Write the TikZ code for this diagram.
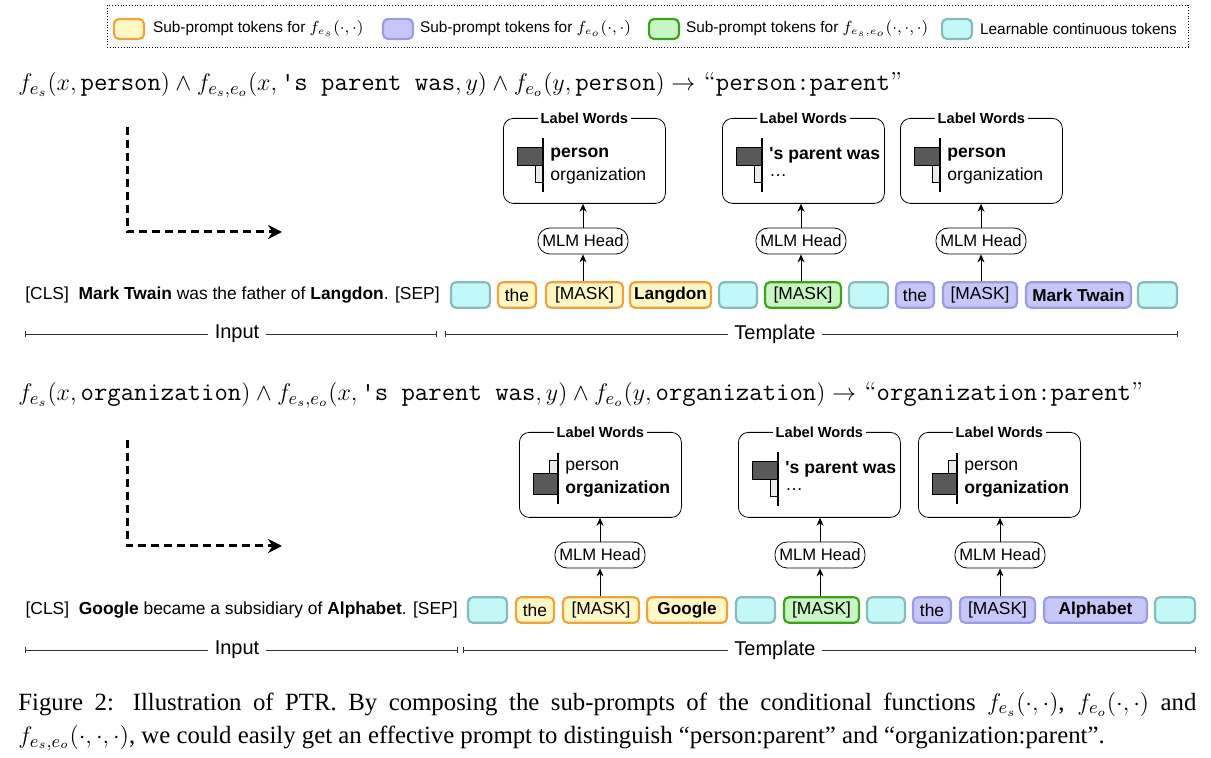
\documentclass[tikz,border=0pt]{standalone}
\usepackage{amsmath}
\usepackage{amssymb}
\usepackage{fontspec}
\usepackage{tikz}
\usetikzlibrary{arrows.meta}
\newfontfamily\sansf{Liberation Sans}
\newfontfamily\serf{Liberation Serif}
\definecolor{oBd}{HTML}{EFA240}\definecolor{oFl}{HTML}{FFF8C4}
\definecolor{pBd}{HTML}{9C9CE4}\definecolor{pFl}{HTML}{C6C6F8}
\definecolor{gBd}{HTML}{3FA01F}\definecolor{gFl}{HTML}{C8F6C2}
\definecolor{cBd}{HTML}{8ABBBB}\definecolor{cFl}{HTML}{C2F8F8}

\begin{document}
\begin{tikzpicture}
[x=0.5pt,y=-0.5pt,font=\sansf\fontsize{8.7}{10}\selectfont,
tok/.style={rectangle,rounded corners=2.5pt,line width=1.1pt,minimum height=12.8pt,inner sep=0pt},
tokO/.style={tok,draw=oBd,fill=oFl},
tokP/.style={tok,draw=pBd,fill=pFl},
tokG/.style={tok,draw=gBd,fill=gFl},
tokC/.style={tok,draw=cBd,fill=cFl},
tokB/.style={font=\sansf\bfseries\fontsize{8.6}{10}\selectfont},
leg/.style={anchor=west,font=\sansf\fontsize{7.7}{9}\selectfont},
mlm/.style={rectangle,rounded corners=6pt,draw,thin,minimum width=45pt,minimum height=13pt,inner sep=0pt,font=\sansf\fontsize{8.3}{10}\selectfont},
lbox/.style={rectangle,rounded corners=5pt,draw,thin,minimum width=81pt,minimum height=42.5pt,anchor=north west},
ltitle/.style={fill=white,inner sep=1.5pt,font=\sansf\bfseries\fontsize{7.3}{8}\selectfont},
lw/.style={anchor=west,inner sep=0pt,font=\sansf\fontsize{8.8}{11}\selectfont},
up/.style={-{Stealth[length=4pt,width=3.5pt]},thin},
span/.style={{|[width=3pt]}-{|[width=3pt]},thin,black!80},
spanlbl/.style={fill=white,font=\sansf\fontsize{10}{12}\selectfont},
ldash/.style={line width=1.5pt,dash pattern=on 4pt off 2.5pt,-{Stealth[length=7pt,width=7pt]}},
form/.style={anchor=west,inner sep=0pt,font=\fontsize{13}{15}\selectfont}]
\useasboundingbox (0,0) rectangle (1211,758);

% legend
\draw[densely dotted] (107,5) rectangle (1188,47);
\node[tokO,minimum width=15pt,minimum height=10pt] (legO) at (129,29) {};
\node[leg] (legOt) at (146,29) {Sub-prompt tokens for $f_{e_s}(\cdot,\cdot)$};
\node[tokP,minimum width=15pt,minimum height=10pt] (legP) at (398,29) {};
\node[leg] (legPt) at (413,29) {Sub-prompt tokens for $f_{e_o}(\cdot,\cdot)$};
\node[tokG,minimum width=15pt,minimum height=10pt] (legG) at (664,29) {};
\node[leg] (legGt) at (679,29) {Sub-prompt tokens for $f_{e_s,e_o}(\cdot,\cdot,\cdot)$};
\node[tokC,minimum width=15pt,minimum height=10pt] (legC) at (957,29) {};
\node[leg] (legCt) at (973,29) {Learnable continuous tokens};

% first example
\node[form] (formA) at (18,85) {$f_{e_s}(x,\texttt{person})\wedge f_{e_s,e_o}(x,\texttt{'s parent was},y)\wedge f_{e_o}(y,\texttt{person})\rightarrow$ ``\texttt{person:parent}''};
\coordinate (dA1) at (127,127);
\coordinate (dA2) at (127,232);
\coordinate (dA3) at (282,232);
\draw[ldash] (dA1) -- (dA2) -- (dA3);

\node[lbox] (lwA1) at (503,118) {};
\node[lbox] (lwA2) at (722,118) {};
\node[lbox] (lwA3) at (900,118) {};
\foreach \b/\ta/\tb in {lwA1/{\bfseries person}/organization,lwA2/{\bfseries 's parent was}/\dots,lwA3/{\bfseries person}/organization}{
  \node[ltitle] at (\b.north) {Label Words};
  \begin{scope}[shift={(\b.north west)}]
    \draw[fill=black!65] (14,29) rectangle (39,47);
    \draw[fill=black!8] (32,47) rectangle (39,64);
    \draw[thick] (40,20) -- (40,74);
    \node[lw] at (47,37) {\ta};
    \node[lw] at (47,58) {\tb};
  \end{scope}}

\node[mlm] (mlmA1) at (583,241) {MLM Head};
\node[mlm] (mlmA2) at (801,241) {MLM Head};
\node[mlm] (mlmA3) at (981,241) {MLM Head};

\node[anchor=east,inner sep=0pt] (inA) at (440,295) {[CLS]\ \ \textbf{Mark Twain} was the father of \textbf{Langdon}. [SEP]};
\node[tokC,minimum width=19.5pt] (cA1) at (470.5,295) {};
\node[tokO,minimum width=19pt] (theA1) at (517,295) {the};
\node[tokO,minimum width=38.5pt] (mkA1) at (584.5,295) {[MASK]};
\node[tokO,tokB,minimum width=40.5pt] (subA) at (670.5,295) {Langdon};
\node[tokC,minimum width=19pt] (cA2) at (738,295) {};
\node[tokG,minimum width=38pt] (mkA2) at (803,295) {[MASK]};
\node[tokC,minimum width=19.5pt] (cA3) at (868.5,295) {};
\node[tokP,minimum width=19pt] (theA2) at (915,295) {the};
\node[tokP,minimum width=37pt] (mkA3) at (980,295) {[MASK]};
\node[tokP,tokB,minimum width=52.5pt] (objA) at (1078.5,295) {Mark Twain};
\node[tokC,minimum width=19.5pt] (cA4) at (1157.5,295) {};

\draw[up] (mkA1.north -| mlmA1) -- (mlmA1.south);
\draw[up] (mkA2.north -| mlmA2) -- (mlmA2.south);
\draw[up] (mkA3.north -| mlmA3) -- (mlmA3.south);
\draw[up] (mlmA1.north) -- (mlmA1.north |- lwA1.south);
\draw[up] (mlmA2.north) -- (mlmA2.north |- lwA2.south);
\draw[up] (mlmA3.north) -- (mlmA3.north |- lwA3.south);

\coordinate (iA1) at (25,334);
\coordinate (iA2) at (437,334);
\coordinate (tA1) at (445,334);
\coordinate (tA2) at (1178,334);
\draw[span] (iA1) -- (iA2);
\draw[span] (tA1) -- (tA2);
\node[spanlbl] (inputA) at (237,334) {Input};
\node[spanlbl] (templA) at (775,334) {Template};

% second example
\node[form] (formB) at (18,395) {$f_{e_s}(x,\texttt{organization})\wedge f_{e_s,e_o}(x,\texttt{'s parent was},y)\wedge f_{e_o}(y,\texttt{organization})\rightarrow$ ``\texttt{organization:parent}''};
\coordinate (dB1) at (127,440);
\coordinate (dB2) at (127,546);
\coordinate (dB3) at (282,546);
\draw[ldash] (dB1) -- (dB2) -- (dB3);

\node[lbox] (lwB1) at (519,432) {};
\node[lbox] (lwB2) at (738,432) {};
\node[lbox] (lwB3) at (918,432) {};
\foreach \b in {lwB1,lwB3}{
  \node[ltitle] at (\b.north) {Label Words};
  \begin{scope}[shift={(\b.north west)}]
    \draw[fill=black!8] (30,28) rectangle (38,41);
    \draw[fill=black!65] (14,41) rectangle (38,62);
    \draw[thick] (39,21) -- (39,72);
    \node[lw] at (46,36) {person};
    \node[lw] at (46,57) {\bfseries organization};
  \end{scope}}
\node[ltitle] at (lwB2.north) {Label Words};
\begin{scope}[shift={(lwB2.north west)}]
  \draw[fill=black!65] (14,29) rectangle (39,47);
  \draw[fill=black!8] (32,47) rectangle (39,64);
  \draw[thick] (40,20) -- (40,74);
  \node[lw] at (47,37) {\bfseries 's parent was};
  \node[lw] at (47,58) {\dots};
\end{scope}

\node[mlm] (mlmB1) at (600,555) {MLM Head};
\node[mlm] (mlmB2) at (820,555) {MLM Head};
\node[mlm] (mlmB3) at (1000,555) {MLM Head};

\node[anchor=east,inner sep=0pt] (inB) at (458,610) {[CLS]\ \ \textbf{Google} became a subsidiary of \textbf{Alphabet}. [SEP]};
\node[tokC,minimum width=19.5pt] (cB1) at (487.5,610) {};
\node[tokO,minimum width=19pt] (theB1) at (535,610) {the};
\node[tokO,minimum width=38pt] (mkB1) at (601,610) {[MASK]};
\node[tokO,tokB,minimum width=40pt] (subB) at (687,610) {Google};
\node[tokC,minimum width=19.5pt] (cB2) at (755.5,610) {};
\node[tokG,minimum width=37.5pt] (mkB2) at (821.5,610) {[MASK]};
\node[tokC,minimum width=19pt] (cB3) at (886,610) {};
\node[tokP,minimum width=19pt] (theB2) at (932,610) {the};
\node[tokP,minimum width=37.5pt] (mkB3) at (997.5,610) {[MASK]};
\node[tokP,tokB,minimum width=51.5pt] (objB) at (1095.5,610) {Alphabet};
\node[tokC,minimum width=20pt] (cB4) at (1175,610) {};

\draw[up] (mkB1.north -| mlmB1) -- (mlmB1.south);
\draw[up] (mkB2.north -| mlmB2) -- (mlmB2.south);
\draw[up] (mkB3.north -| mlmB3) -- (mlmB3.south);
\draw[up] (mlmB1.north) -- (mlmB1.north |- lwB1.south);
\draw[up] (mlmB2.north) -- (mlmB2.north |- lwB2.south);
\draw[up] (mlmB3.north) -- (mlmB3.north |- lwB3.south);

\coordinate (iB1) at (25,650);
\coordinate (iB2) at (458,650);
\coordinate (tB1) at (463,650);
\coordinate (tB2) at (1196,650);
\draw[span] (iB1) -- (iB2);
\draw[span] (tB1) -- (tB2);
\node[spanlbl] (inputB) at (237,650) {Input};
\node[spanlbl] (templB) at (775,650) {Template};

% caption
\node[anchor=north west,inner sep=0pt,text width=589pt,align=justify,font=\serf\fontsize{12.4}{16.5}\selectfont] (capt) at (18,692)
{Figure 2: Illustration of PTR. By composing the sub-prompts of the conditional functions $f_{e_s}(\cdot,\cdot)$, $f_{e_o}(\cdot,\cdot)$ and\linebreak $f_{e_s,e_o}(\cdot,\cdot,\cdot)$, we could easily get an effective prompt to distinguish “person:parent” and “organization:parent”.};
\end{tikzpicture}
\end{document}
